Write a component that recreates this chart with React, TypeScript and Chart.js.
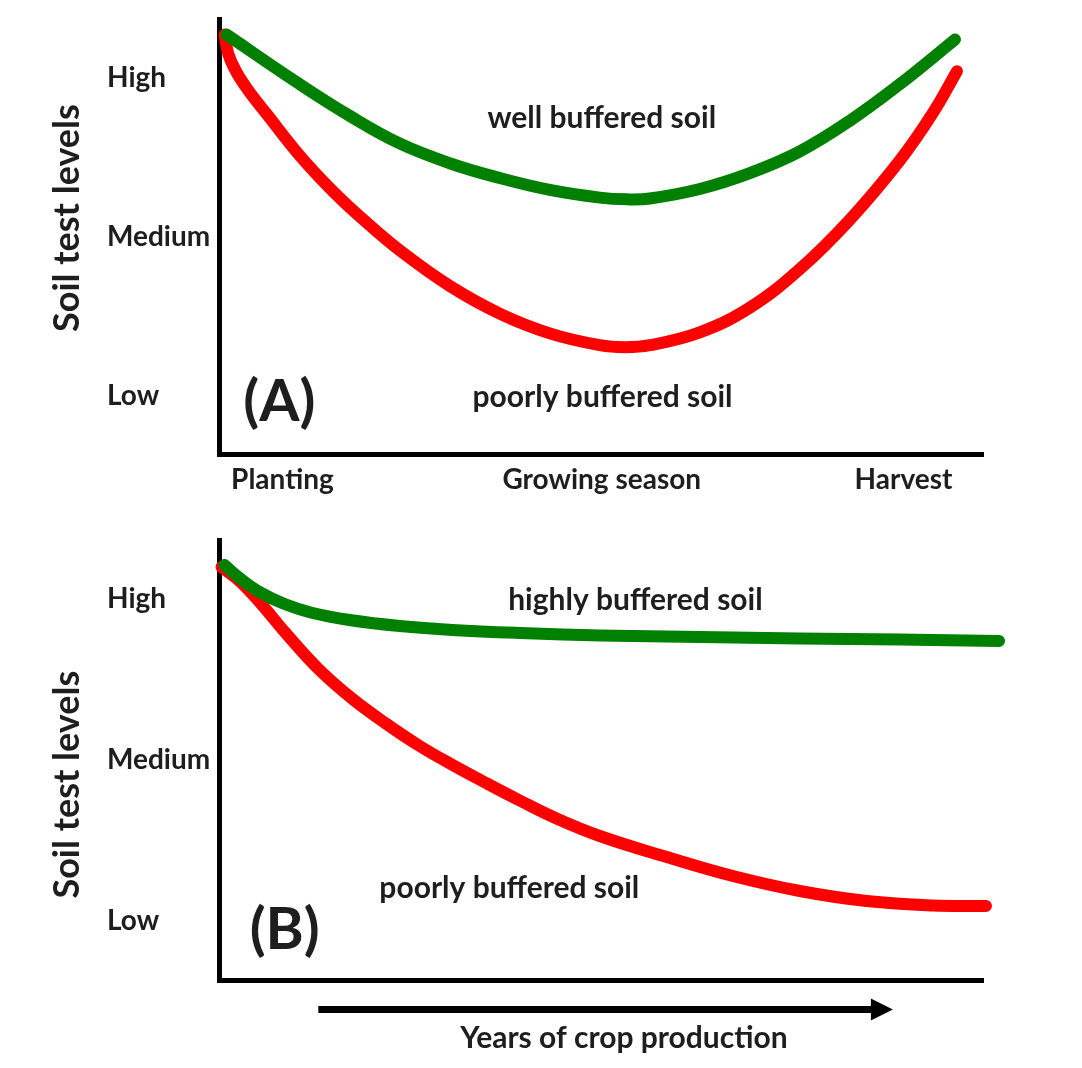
import React, { useEffect, useRef } from "react";
import { Chart, registerables } from "chart.js";

Chart.register(...registerables);

// ---- data ----
const levelTicks = [13.5, 50, 86.6];
const levelLabels = ["Low", "Medium", "High"];
const seasonTicks = [8.3, 50.1, 89.6];
const seasonLabels = ["Planting", "Growing season", "Harvest"];

const topGreenX = [0.98, 10.54, 17.09, 23.64, 30.19, 36.74, 43.29, 49.84, 53.4, 56.39, 62.93, 69.48, 76.03, 82.58, 89.13, 96.33];
const topGreenY = [96.6, 85.21, 77.93, 71.56, 67.01, 63.6, 60.86, 59.1, 58.7, 58.9, 61.09, 64.73, 69.74, 76.79, 85.21, 95.45];

const topRedX = [0.72, 1.24, 2.29, 3.99, 6.22, 10.54, 14.87, 19.32, 23.64, 30.19, 36.74, 43.29, 49.84, 53.11, 56.39, 62.93, 69.48, 76.03, 82.58, 89.13, 93.45, 96.59];
const topRedY = [96.59, 92.04, 87.94, 83.39, 78.38, 68.83, 60.64, 53.36, 46.99, 38.79, 32.42, 27.87, 25.14, 24.69, 25.14, 28.1, 33.79, 42.67, 54.04, 67.69, 78.61, 88.17];

const botGreenX = [0.72, 2.69, 5.3, 8.58, 12.25, 17.09, 23.64, 30.58, 39.36, 49.84, 62.93, 76.03, 89.13, 102.1];
const botGreenY = [94.32, 91.36, 88.18, 85.45, 83.41, 81.82, 80.45, 79.55, 78.86, 78.3, 77.95, 77.61, 77.39, 77.05];

const botRedX = [0.33, 2.69, 5.3, 8.84, 13.16, 17.49, 21.94, 26.26, 30.58, 35.04, 39.36, 43.68, 49.84, 58.61, 67.26, 76.03, 84.81, 93.45, 100.39];
const botRedY = [93.86, 90.68, 85.91, 78.64, 70.45, 63.86, 58.18, 53.18, 48.86, 44.7, 40.8, 37.1, 32.73, 27.95, 23.64, 20.23, 17.95, 16.93, 16.82];

const topNotes = [
  { text: "well buffered soil", x: 50.1, y: 77.4 },
  { text: "poorly buffered soil", x: 50.2, y: 13.1 },
];
const botNotes = [
  { text: "highly buffered soil", x: 54.5, y: 86.2 },
  { text: "poorly buffered soil", x: 38.0, y: 20.9 },
];
const topPanel = { text: "(A)", x: 7.9, y: 12.0 };
const botPanel = { text: "(B)", x: 8.6, y: 11.3 };
const yTitle = "Soil test levels";
const topTitleY = 54.4;
const botTitleY = 44.4;
const xTitle = "Years of crop production";
const xTitleX = 53.0;
const arrowFrom = 13.0;
const arrowTo = 88.2;

// ---- styles ----
const FONT = "Lato";
const TEXT = "#1e1e1e";
const GREEN = "#008000";
const RED = "#ff0000";

const pts = (xs: number[], ys: number[]) => xs.map((x, i) => ({ x, y: ys[i] }));

function notesPlugin(cfg: any) {
  return {
    id: "notes",
    afterDraw(chart: any) {
      const { ctx, chartArea } = chart;
      const x = chart.scales.x;
      const y = chart.scales.y;
      ctx.save();
      ctx.fillStyle = TEXT;
      ctx.textAlign = "center";
      ctx.textBaseline = "middle";
      ctx.font = `bold 30px ${FONT}`;
      for (const n of cfg.notes) {
        ctx.fillText(n.text, x.getPixelForValue(n.x), y.getPixelForValue(n.y));
      }
      ctx.font = `bold 58px ${FONT}`;
      ctx.fillText(cfg.panel.text, x.getPixelForValue(cfg.panel.x), y.getPixelForValue(cfg.panel.y));
      // y title
      ctx.save();
      ctx.translate(chartArea.left - 152, y.getPixelForValue(cfg.titleY));
      ctx.rotate(-Math.PI / 2);
      ctx.font = `bold 36px ${FONT}`;
      ctx.fillText(yTitle, 0, 0);
      ctx.restore();
      if (cfg.arrow) {
        const ay = chartArea.bottom + 29.5;
        const x1 = x.getPixelForValue(arrowFrom);
        const x2 = x.getPixelForValue(arrowTo);
        ctx.strokeStyle = "#000";
        ctx.lineWidth = 7;
        ctx.beginPath();
        ctx.moveTo(x1, ay);
        ctx.lineTo(x2 - 18, ay);
        ctx.stroke();
        ctx.fillStyle = "#000";
        ctx.beginPath();
        ctx.moveTo(x2, ay);
        ctx.lineTo(x2 - 22, ay - 11);
        ctx.lineTo(x2 - 22, ay + 11);
        ctx.closePath();
        ctx.fill();
        ctx.fillStyle = TEXT;
        ctx.font = `bold 30px ${FONT}`;
        ctx.fillText(xTitle, x.getPixelForValue(xTitleX), chartArea.bottom + 58);
      }
      ctx.restore();
    },
  };
}

function makeConfig(opts: any) {
  const tickFont = { family: FONT, weight: "bold" as const, size: 28 };
  const line = (xs: number[], ys: number[], color: string) => ({
    data: pts(xs, ys),
    borderColor: color,
    borderWidth: 12,
    borderCapStyle: "round",
    borderJoinStyle: "round",
    pointRadius: 0,
    tension: 0.4,
    clip: false,
    fill: false,
  });
  return {
    type: "line" as const,
    data: {
      datasets: [line(opts.gx, opts.gy, GREEN), line(opts.rx, opts.ry, RED)],
    },
    options: {
      responsive: false,
      animation: false,
      events: [],
      layout: { padding: { left: 107, right: 99, top: opts.padTop, bottom: 0 } },
      plugins: { legend: { display: false }, tooltip: { enabled: false } },
      scales: {
        x: {
          type: "linear",
          min: 0,
          max: 100,
          afterFit: (s: any) => {
            s.height = opts.xHeight;
          },
          afterBuildTicks: (s: any) => {
            s.ticks = opts.showX ? seasonTicks.map((v) => ({ value: v })) : [];
          },
          ticks: {
            display: opts.showX,
            callback: (_v: any, i: number) => seasonLabels[i],
            maxRotation: 0,
            autoSkip: false,
            padding: 9,
            font: tickFont,
            color: TEXT,
          },
          grid: { display: false, drawTicks: false },
          border: { display: true, color: "#000", width: 5 },
        },
        y: {
          type: "linear",
          min: 0,
          max: 100,
          afterFit: (s: any) => {
            s.width = 112;
          },
          afterBuildTicks: (s: any) => {
            s.ticks = levelTicks.map((v) => ({ value: v }));
          },
          ticks: {
            callback: (_v: any, i: number) => levelLabels[i],
            crossAlign: "far",
            autoSkip: false,
            font: tickFont,
            color: TEXT,
          },
          grid: { display: false, drawTicks: false },
          border: { display: true, color: "#000", width: 5 },
        },
      },
    },
    plugins: [notesPlugin(opts.notes)],
  };
}

export default function App() {
  const topRef = useRef<HTMLCanvasElement>(null);
  const botRef = useRef<HTMLCanvasElement>(null);

  useEffect(() => {
    const top = new Chart(
      topRef.current as HTMLCanvasElement,
      makeConfig({
        gx: topGreenX,
        gy: topGreenY,
        rx: topRedX,
        ry: topRedY,
        padTop: 15,
        xHeight: 65.5,
        showX: true,
        notes: { notes: topNotes, panel: topPanel, titleY: topTitleY, arrow: false },
      }) as any
    );
    const bot = new Chart(
      botRef.current as HTMLCanvasElement,
      makeConfig({
        gx: botGreenX,
        gy: botGreenY,
        rx: botRedX,
        ry: botRedY,
        padTop: 20,
        xHeight: 88,
        showX: false,
        notes: { notes: botNotes, panel: botPanel, titleY: botTitleY, arrow: true },
      }) as any
    );
    return () => {
      top.destroy();
      bot.destroy();
    };
  }, []);

  return (
    <div
      style={{
        position: "absolute",
        left: 0,
        top: 0,
        width: 1082,
        height: 1068,
        background: "#fff",
      }}
    >
      <canvas
        ref={topRef}
        width={1082}
        height={520}
        style={{ position: "absolute", left: 0, top: 0, width: 1082, height: 520 }}
      />
      <canvas
        ref={botRef}
        width={1082}
        height={548}
        style={{ position: "absolute", left: 0, top: 520, width: 1082, height: 548 }}
      />
    </div>
  );
}
